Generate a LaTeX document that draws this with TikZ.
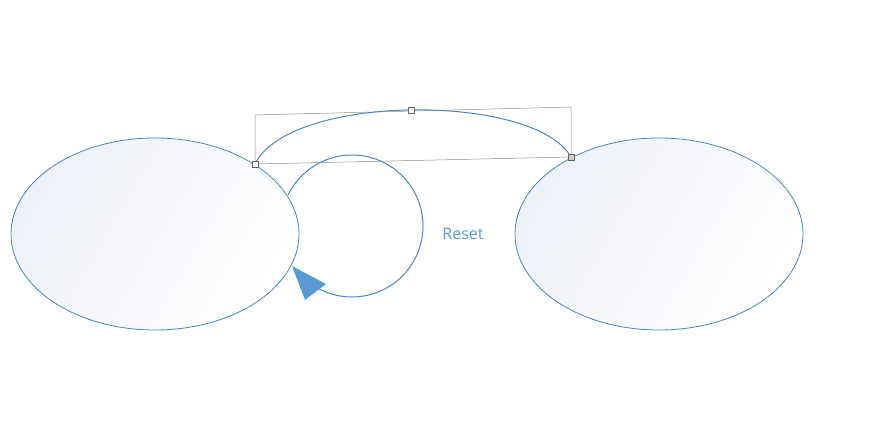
\documentclass[tikz,border=0pt]{standalone}
\usepackage{fontspec}
\setmainfont{Open Sans}
\usetikzlibrary{shapes.geometric,calc}
\begin{document}
\begin{tikzpicture}[x=1pt,y=1pt,
  st/.style={ellipse,draw=blueline,line width=0.8pt,minimum width=288pt,minimum height=192pt,inner sep=0pt,
    shading=axis,left color=shadeblue,right color=white,shading angle=60},
  hnd/.style={draw=gray!80!black,fill=white,minimum size=6pt,inner sep=0pt,line width=0.5pt}]
\definecolor{blueline}{HTML}{4A86C2}
\definecolor{shadeblue}{HTML}{EEF1F8}
\definecolor{arrowblue}{HTML}{5B9BD5}
\useasboundingbox (0,0) rectangle (879,-425);
\node[st] (L) at (155,-234) {};
\node[st] (R) at (659,-234) {};
\coordinate (a) at (255,-164);
\coordinate (b) at (571,-157);
\coordinate (m) at (411,-110);
% selection box
\draw[gray!90,line width=0.5pt] (255,-115) -- (571,-107) -- (b) -- (a) -- cycle;
\draw[blueline,line width=1pt] (a) .. controls (290,-93) and (535,-93) .. (b);
\node[hnd] (h1) at (a) {};
\node[hnd] (h2) at (m) {};
\node[hnd,fill=gray!40] (h3) at (b) {};
% loop
\coordinate (lc) at (352,-226);
\draw[blueline,line width=1pt] ($(lc)+(154:71)$) arc[start angle=154,end angle=-118,radius=71];
\fill[arrowblue] (292,-266) -- (326,-284) -- (305,-300) -- cycle;
\node[text=arrowblue,font=\fontsize{16}{18}\selectfont] (lab) at (463,-234) {Reset};
\end{tikzpicture}
\end{document}
